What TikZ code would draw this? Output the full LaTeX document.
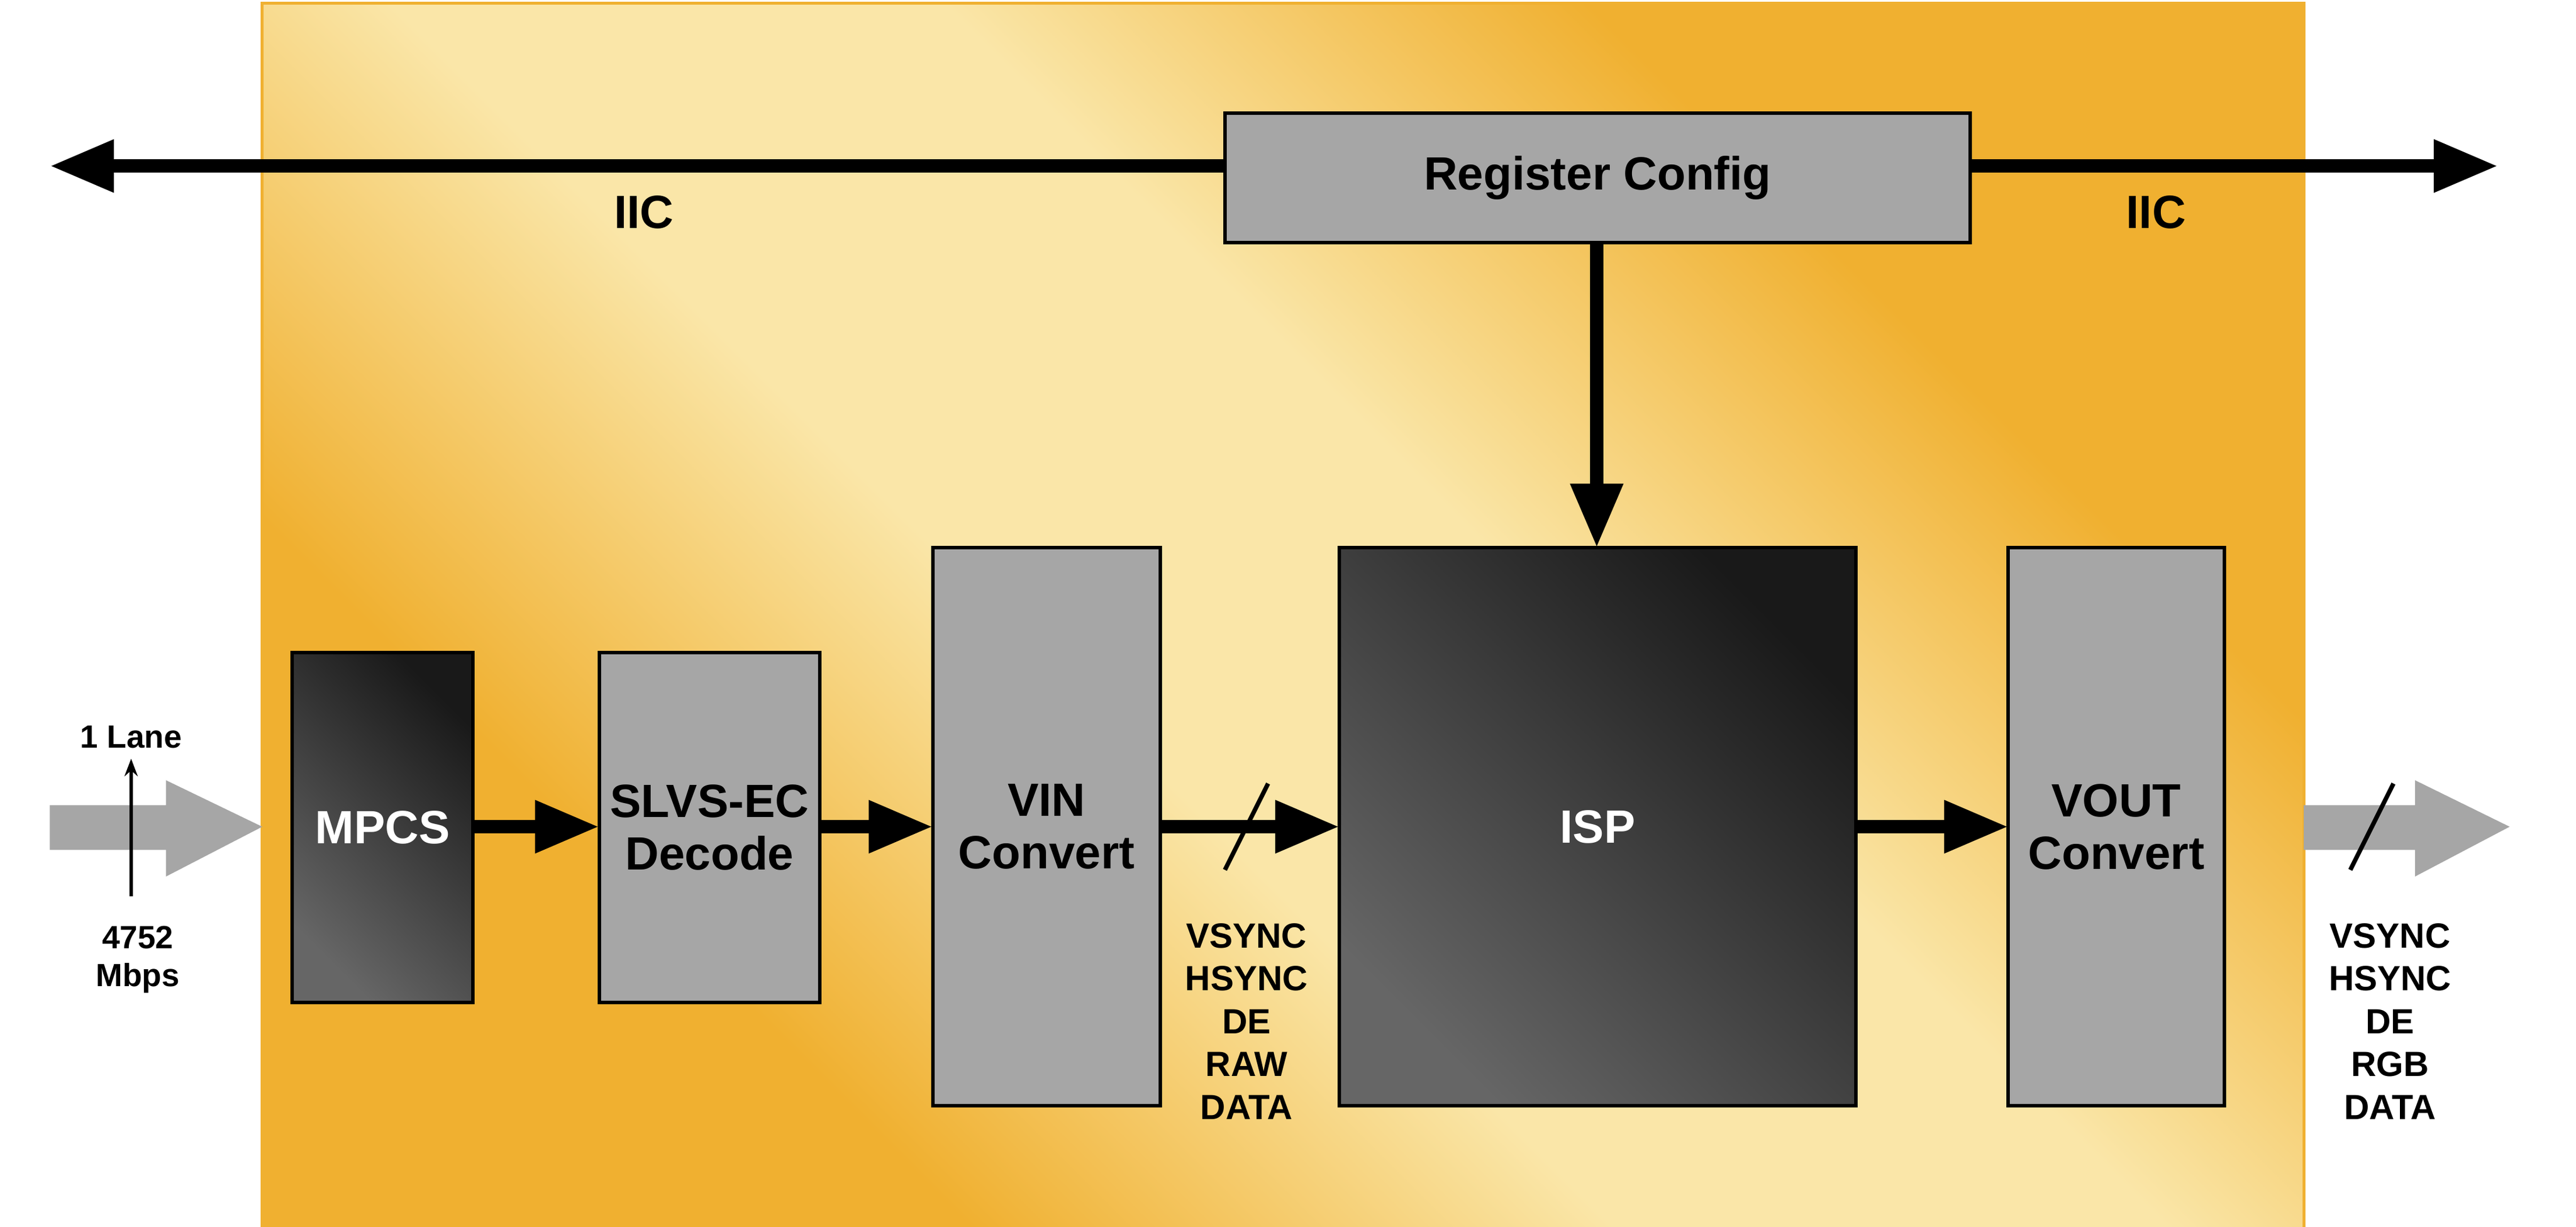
\documentclass[tikz,border=0pt]{standalone}
\usepackage{fontspec}
\setmainfont{Liberation Sans}
\usetikzlibrary{arrows.meta,positioning,calc}
\definecolor{panelor}{HTML}{F0B030}
\definecolor{panellt}{HTML}{FAE6A8}
\definecolor{blkgray}{HTML}{A6A6A6}
\pgfdeclarehorizontalshading{panelsh}{100bp}{color(0bp)=(panelor); color(30bp)=(panelor);
  color(44bp)=(panellt); color(56bp)=(panellt); color(70bp)=(panelor); color(100bp)=(panelor)}
\begin{document}
\begin{tikzpicture}[x=0.02cm, y=-0.02cm, font=\bfseries,
  blk/.style={draw, line width=1.2pt, fill=blkgray},
  dark/.style={draw, line width=1.2pt, left color=black!90, right color=black!60, shading angle=-45},
  arr/.style={-{Triangle[length=22pt,width=17pt]}, line width=4.5pt},
  lbl/.style={font=\fontsize{11}{13}\selectfont\bfseries, align=center},
  big/.style={font=\fontsize{16}{18}\selectfont\bfseries, align=center, text=#1},
  big/.default=black]
  \useasboundingbox (0,0) rectangle (1552,739);
  % panel
  \shade[shading=panelsh, shading angle=45] (158,2) rectangle (1388,744);
  \draw[panelor, line width=1pt] (158,2) rectangle (1388,744);
  % blocks
  \draw[blk] (738,68) rectangle (1187,146) node[midway, big] (reg) {Register Config};
  \draw[dark] (176,393) rectangle (285,604) node[midway, big=white] (mpcs) {MPCS};
  \draw[blk] (361,393) rectangle (494,604) node[midway, big] (slvs) {SLVS-EC\\Decode};
  \draw[blk] (562,330) rectangle (699,666) node[midway, big] (vin) {VIN\\Convert};
  \draw[dark] (807,330) rectangle (1118,666) node[midway, big=white] (isp) {ISP};
  \draw[blk] (1210,330) rectangle (1340,666) node[midway, big] (vout) {VOUT\\Convert};
  \coordinate (mpcsE) at (285,498); \coordinate (slvsW) at (361,498);
  \coordinate (slvsE) at (494,498); \coordinate (vinW) at (562,498);
  \coordinate (vinE) at (699,498); \coordinate (ispW) at (807,498);
  \coordinate (ispE) at (1118,498); \coordinate (voutW) at (1210,498);
  \coordinate (regS) at (962,146); \coordinate (ispN) at (962,330);
  \coordinate (regW) at (738,100); \coordinate (regE) at (1187,100);
  \coordinate (iicL) at (30,100); \coordinate (iicR) at (1505,100);
  % IIC bus
  \draw[arr] (regW) -- (iicL);
  \draw[arr] (regE) -- (iicR);
  \node[big] (iic1) at (388,128) {IIC};
  \node[big] (iic2) at (1299,128) {IIC};
  \draw[arr] (regS) -- (ispN);
  % data path
  \draw[arr] (mpcsE) -- (slvsW);
  \draw[arr] (slvsE) -- (vinW);
  \draw[arr] (vinE) -- (ispW);
  \draw[arr] (ispE) -- (voutW);
  \draw[line width=1.5pt] (738,524) -- (764,472);
  % input and output
  \fill[blkgray] (30,485) -- (100,485) -- (100,470) -- (158,498) -- (100,528) -- (100,512) -- (30,512) -- cycle;
  \fill[blkgray] (1388,485) -- (1455,485) -- (1455,470) -- (1512,498) -- (1455,528) -- (1455,512) -- (1388,512) -- cycle;
  \draw[line width=1.5pt] (1416,524) -- (1442,472);
  \coordinate (laneS) at (79,540); \coordinate (laneN) at (79,457);
  \draw[-{Stealth[length=6pt]}, line width=1.2pt] (laneS) -- (laneN);
  \node[lbl, above=0pt of laneN] (lane) {1 Lane};
  \node[lbl] (rate) at (83,578) {4752\\Mbps};
  \node[lbl, font=\fontsize{12}{14.7}\selectfont\bfseries, anchor=north] (vinsig) at (751,550) {VSYNC\\HSYNC\\DE\\RAW\\DATA};
  \node[lbl, font=\fontsize{12}{14.7}\selectfont\bfseries, anchor=north] (outsig) at (1440,550) {VSYNC\\HSYNC\\DE\\RGB\\DATA};
\end{tikzpicture}
\end{document}
